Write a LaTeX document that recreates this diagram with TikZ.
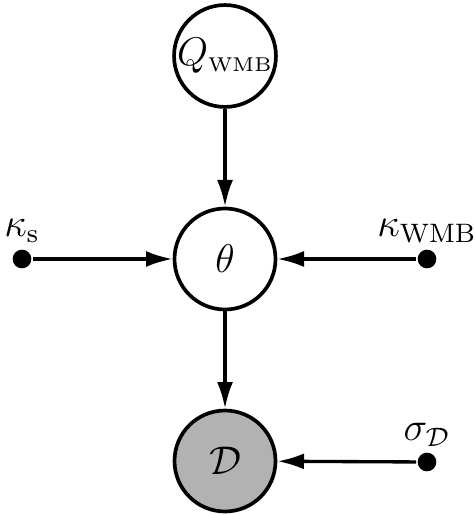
\documentclass[tikz,border=0pt]{standalone}
\usepackage{amsmath}
\usepackage{amssymb}
\usepackage{tikz}
\usetikzlibrary{arrows.meta,positioning}

\begin{document}
\begin{tikzpicture}[
		x=1pt, y=1pt,
		>={Latex[length=8pt,width=4.8pt]},
		line width=1pt,
		font=\large,
		var/.style={
			circle,
			draw=black,
			line width=1.1pt,
			minimum size=30.3pt,
			inner sep=0pt,
			fill=white
		},
		obs/.style={
			var,
			fill=gray!60
		},
		hyper/.style={
			circle,
			fill=black,
			minimum size=5.6pt,
			inner sep=0pt
		},
		hlabel/.style={
			inner sep=0.5pt
		}
		]
		\useasboundingbox (0,0) rectangle (142.2,-154.5);
		% We start by placing the blocks
		
		\node [var] (theta) at (67.5,-77.7) {$\theta$};
		\node [var] (qwmb) at (67.5,-16.8) {$Q_{\scriptscriptstyle\mathrm{WMB}}$};
		\node [obs] (data) at (67.5,-138.3) {$\mathcal{D}$};
		
		\node [hyper] (ks) at (6.6,-77.7) {};
		\node [hyper] (kwmb) at (128.1,-77.7) {};
		\node [hyper] (sd) at (128.1,-138.6) {};
		
		\node [hlabel, above=0.5pt of ks] (ksl) {$\kappa_{\mathrm{s}}$};
		\node [hlabel, above=0.5pt of kwmb] (kwmbl) {$\kappa_{\mathrm{WMB}}$};
		\node [hlabel, above=0.5pt of sd] (sdl) {$\sigma_{\mathcal{D}}$};
		
		\draw [->] (qwmb) -- (theta);
		\draw [->] (theta) -- (data);
		\draw [->] (ks) -- (theta);
		\draw [->] (kwmb) -- (theta);
		\draw [->] (sd) -- (data);
		
		\end{tikzpicture}
\end{document}
